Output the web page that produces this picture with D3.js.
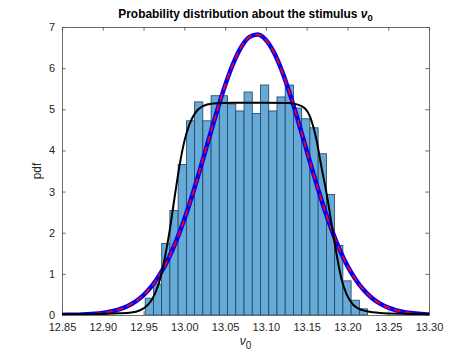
<!DOCTYPE html>
<html>
<head>
<meta charset="utf-8">
<script src="https://cdn.jsdelivr.net/npm/d3@7"></script>
<style>
  body { margin: 0; background: #fff; }
  svg { font-family: "Liberation Sans", Arial, Helvetica, sans-serif; }
</style>
</head>
<body>
<div id="app"></div>
<script>
// histogram bins, normalised as pdf
const binStart = 12.952
const binWidth = 0.0101
const binHeights = [0.41, 0.75, 1.74, 2.54, 3.66, 4.72, 5.18, 4.72, 5.33, 5.33, 5.13, 4.96, 5.42, 4.90,
  5.59, 4.96, 5.30, 5.59, 5.03, 4.77, 4.55, 3.92, 2.93, 1.69, 0.83, 0.36, 0.15]

// gaussian fit (blue, red dashed on top)
const normalX = [12.85, 12.86, 12.87, 12.88, 12.89, 12.90, 12.91, 12.92, 12.93, 12.94, 12.95, 12.96, 12.97,
  12.98, 12.99, 13.00, 13.01, 13.02, 13.03, 13.04, 13.05, 13.06, 13.07, 13.08, 13.09, 13.10, 13.11, 13.12,
  13.13, 13.14, 13.15, 13.16, 13.17, 13.18, 13.19, 13.20, 13.21, 13.22, 13.23, 13.24, 13.25, 13.26, 13.27,
  13.28, 13.29, 13.30]
const normalY = [0.003, 0.005, 0.009, 0.017, 0.029, 0.050, 0.084, 0.135, 0.213, 0.326, 0.484, 0.700, 0.986,
  1.350, 1.796, 2.326, 2.930, 3.588, 4.275, 4.952, 5.581, 6.116, 6.520, 6.760, 6.816, 6.685, 6.377, 5.916,
  5.338, 4.685, 3.999, 3.320, 2.680, 2.105, 1.608, 1.195, 0.863, 0.606, 0.414, 0.275, 0.178, 0.112, 0.069,
  0.041, 0.024, 0.013]

// flat-top fit (black)
const flatX = [12.85, 12.90, 12.92, 12.935, 12.945, 12.952, 12.958, 12.964, 12.970, 12.976, 12.982, 12.988,
  12.994, 13.000, 13.006, 13.013, 13.022, 13.035, 13.06, 13.10, 13.128, 13.138, 13.148, 13.154, 13.162,
  13.168, 13.175, 13.181, 13.187, 13.193, 13.199, 13.207, 13.213, 13.224, 13.24, 13.27, 13.30]
const flatY = [0.02, 0.03, 0.04, 0.06, 0.11, 0.19, 0.31, 0.52, 0.86, 1.38, 2.05, 2.85, 3.62, 4.22, 4.62,
  4.90, 5.07, 5.14, 5.16, 5.16, 5.15, 5.12, 5.02, 4.83, 4.26, 3.61, 2.89, 2.16, 1.44, 0.85, 0.50, 0.25,
  0.16, 0.09, 0.05, 0.03, 0.02]

const xTicks = [12.85, 12.90, 12.95, 13.00, 13.05, 13.10, 13.15, 13.20, 13.25, 13.30]
const yTicks = [0, 1, 2, 3, 4, 5, 6, 7]

const size = { width: 474, height: 355 }
const plot = { left: 62, right: 429, top: 27, bottom: 315 }
const tickLen = 3.7

const svg = d3.select('#app')
  .append('svg')
  .attr('width', size.width)
  .attr('height', size.height)

const x = d3.scaleLinear().domain([12.85, 13.30]).range([plot.left, plot.right])
const y = d3.scaleLinear().domain([0, 7]).range([plot.bottom, plot.top])

svg.append('defs').append('clipPath').attr('id', 'clip')
  .append('rect')
  .attr('x', plot.left).attr('y', plot.top - 3)
  .attr('width', plot.right - plot.left).attr('height', plot.bottom - plot.top + 3)

// axes box with inward ticks on all sides
const axisColor = '#4a4a4a'
const bottomAxis = svg.append('g').attr('transform', `translate(0,${plot.bottom})`)
  .call(d3.axisBottom(x).tickValues(xTicks).tickSizeInner(-tickLen).tickSizeOuter(0).tickPadding(7).tickFormat(d3.format('.2f')))
const topAxis = svg.append('g').attr('transform', `translate(0,${plot.top})`)
  .call(d3.axisTop(x).tickValues(xTicks).tickSizeInner(-tickLen).tickSizeOuter(0).tickFormat(''))
const leftAxis = svg.append('g').attr('transform', `translate(${plot.left},0)`)
  .call(d3.axisLeft(y).tickValues(yTicks).tickSizeInner(-tickLen).tickSizeOuter(0).tickPadding(7).tickFormat(d3.format('d')))
const rightAxis = svg.append('g').attr('transform', `translate(${plot.right},0)`)
  .call(d3.axisRight(y).tickValues(yTicks).tickSizeInner(-tickLen).tickSizeOuter(0).tickFormat(''))

svg.selectAll('.domain, .tick line').attr('stroke', axisColor).attr('stroke-width', 0.8)
svg.selectAll('.tick text').attr('fill', '#262626').attr('font-size', 11)
  .attr('font-family', '"Liberation Sans", Arial, sans-serif')
bottomAxis.selectAll('.tick text').attr('dy', '0.85em')

const data = svg.append('g').attr('clip-path', 'url(#clip)')

// histogram
data.selectAll('rect.bar')
  .data(binHeights)
  .enter()
  .append('rect')
  .attr('class', 'bar')
  .attr('x', (d, i) => x(binStart + i * binWidth))
  .attr('width', x(binStart + binWidth) - x(binStart))
  .attr('y', d => y(d))
  .attr('height', d => y(0) - y(d))
  .attr('fill', 'rgb(102,170,215)')
  .attr('stroke', '#24425a')
  .attr('stroke-width', 0.8)

const line = d3.line()
  .x(d => x(d[0]))
  .y(d => y(d[1]))
  .curve(d3.curveMonotoneX)

const normalPts = normalX.map((v, i) => [v, normalY[i]])
const flatPts = flatX.map((v, i) => [v, flatY[i]])

data.append('path').attr('d', line(normalPts))
  .attr('fill', 'none').attr('stroke', '#0000ff').attr('stroke-width', 4.5)
data.append('path').attr('d', line(normalPts))
  .attr('fill', 'none').attr('stroke', '#ff0000').attr('stroke-width', 1.8)
  .attr('stroke-dasharray', '7,4')
data.append('path').attr('d', line(flatPts))
  .attr('fill', 'none').attr('stroke', '#000').attr('stroke-width', 2)

// title and labels
const title = svg.append('text')
  .attr('x', (plot.left + plot.right) / 2)
  .attr('y', 18)
  .attr('text-anchor', 'middle')
  .attr('font-weight', 'bold')
  .attr('font-size', 11.9)
  .attr('fill', '#000')
title.append('tspan').text('Probability distribution about the stimulus ')
title.append('tspan').attr('font-style', 'italic').text('ν')
title.append('tspan').attr('dy', 3).attr('font-size', 9.5).text('0')

const xLabel = svg.append('text')
  .attr('x', (plot.left + plot.right) / 2)
  .attr('y', 345)
  .attr('text-anchor', 'middle')
  .attr('font-size', 12)
  .attr('fill', '#262626')
xLabel.append('tspan').attr('font-style', 'italic').text('ν')
xLabel.append('tspan').attr('dy', 4).attr('font-size', 10).text('0')

svg.append('text')
  .attr('transform', `translate(41,${(plot.top + plot.bottom) / 2}) rotate(-90)`)
  .attr('text-anchor', 'middle')
  .attr('font-size', 11.9)
  .attr('fill', '#262626')
  .text('pdf')
</script>
</body>
</html>
